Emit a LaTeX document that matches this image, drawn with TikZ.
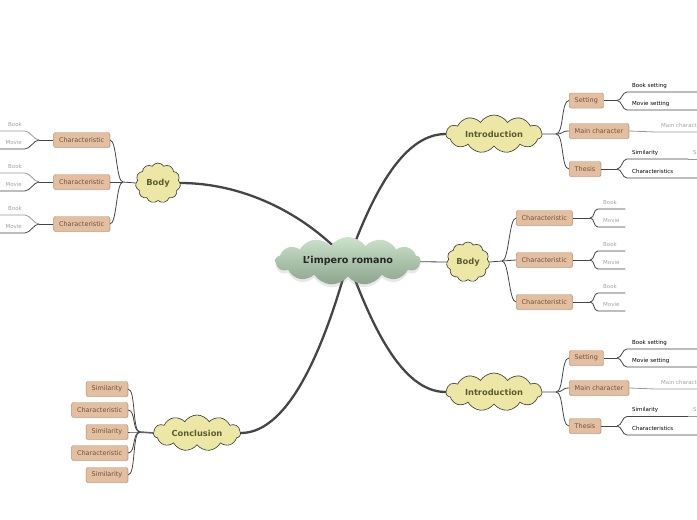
\documentclass[tikz,border=0pt]{standalone}
\usepackage{fontspec}
\setmainfont{DejaVu Sans}
\usetikzlibrary{shapes.symbols,shadows,backgrounds}

\definecolor{boxfill}{HTML}{E3BF9F}
\definecolor{boxline}{HTML}{B08E73}
\definecolor{boxtext}{HTML}{6B5444}
\definecolor{cloudfill}{HTML}{EDE7A6}
\definecolor{cloudtext}{HTML}{5C5A34}
\definecolor{rootlight}{HTML}{CBE2CB}
\definecolor{rootdark}{HTML}{8CA58C}
\definecolor{branch}{HTML}{454545}
\definecolor{leafgray}{HTML}{A2A2A2}

\tikzset{
  root/.style={cloud, cloud puffs=13, cloud puff arc=110, cloud ignores aspect,
    minimum width=145pt, minimum height=48pt, inner sep=0pt,
    top color=rootlight, bottom color=rootdark, draw=none,
    drop shadow={opacity=.18, shadow xshift=0pt, shadow yshift=-3pt},
    font=\fontsize{9.6}{11}\selectfont\bfseries, text=black!85},
  topic/.style={cloud, cloud puffs=11, cloud puff arc=115, cloud ignores aspect,
    inner sep=0pt, draw=black!80, fill=cloudfill, line width=.6pt,
    font=\fontsize{8.3}{10}\selectfont\bfseries, text=cloudtext},
  sub/.style={draw=boxline, fill=boxfill, rounded corners=2pt,
    minimum height=15pt, inner xsep=5.5pt, inner ysep=0pt,
    drop shadow={opacity=.25, shadow xshift=.7pt, shadow yshift=-.7pt},
    font=\fontsize{6.5}{7}\selectfont, text=boxtext},
  leaf/.style={anchor=south west, text width=#1, align=left,
    inner xsep=5pt, inner ysep=4.5pt, text height=4pt, text depth=0pt,
    font=\fontsize{5.5}{6}\selectfont, text=black},
  leaf/.default=60pt,
  lleaf/.style={leaf=#1, anchor=south east, align=right, inner xsep=3pt, text=leafgray},
  trunk/.style={draw=branch, line width=2.3pt, line cap=round},
  twig/.style={draw=branch, line width=.8pt},
  pale/.style={draw=branch!55, line width=.8pt},
}

\begin{document}
\begin{tikzpicture}[x=1pt,y=-1pt]
\clip (0,0) rectangle (697,520);
%\draw[help lines] (0,0) grid[step=50] (697,520);

\node[root] (root) at (348,261) {L'impero romano};

% introduction, top
\node[topic, minimum width=96pt, minimum height=38pt] (introA) at (494,134) {Introduction};
\coordinate (jA) at (556,134);
\node[sub, anchor=west] (setA) at (569,100.5) {Setting};
\node[sub, anchor=west] (mainA) at (569,131) {Main character};
\node[sub, anchor=west] (thesA) at (569,169) {Thesis};
\coordinate (kA1) at (617,100.5);
\coordinate (kA2) at (617,169);
\node[leaf=63pt] (bsetA) at (627,92) {Book setting};
\node[leaf=63pt] (msetA) at (627,110) {Movie setting};
\node[leaf=50pt, text=leafgray] (cmainA) at (656,132) {Main character};
\node[leaf=51pt] (simA) at (627,159) {Similarity};
\node[leaf=40pt, text=leafgray] (simA2) at (688,159) {Similarity};
\node[leaf=63pt] (charsA) at (627,178) {Characteristics};

\draw[twig] (introA.east) -- (jA);
\foreach \n in {setA,mainA,thesA}
  \draw[twig] (jA) .. controls +(8,0) and +(-8,0) .. (\n.west);
\draw[twig] (setA.east) -- (kA1);
\draw[twig] (kA1) .. controls +(5,0) and +(-5,0) .. (bsetA.south west) -- (bsetA.south east);
\draw[twig] (kA1) .. controls +(5,0) and +(-5,0) .. (msetA.south west) -- (msetA.south east);
\draw[pale] (mainA.east) -- (cmainA.south west) -- (cmainA.south east);
\draw[twig] (thesA.east) -- (kA2);
\draw[twig] (kA2) .. controls +(5,0) and +(-5,0) .. (simA.south west) -- (simA.south east);
\draw[pale] (simA.south east) -- (simA2.south east);
\draw[twig] (kA2) .. controls +(5,0) and +(-5,0) .. (charsA.south west) -- (charsA.south east);

% introduction, bottom
\node[topic, minimum width=96pt, minimum height=38pt] (introB) at (494,392) {Introduction};
\coordinate (jB) at (556,392);
\node[sub, anchor=west] (setB) at (569,358) {Setting};
\node[sub, anchor=west] (mainB) at (569,388) {Main character};
\node[sub, anchor=west] (thesB) at (569,426) {Thesis};
\coordinate (kB1) at (617,358);
\coordinate (kB2) at (617,426);
\node[leaf=63pt] (bsetB) at (627,349) {Book setting};
\node[leaf=63pt] (msetB) at (627,367) {Movie setting};
\node[leaf=50pt, text=leafgray] (cmainB) at (656,389) {Main character};
\node[leaf=51pt] (simB) at (627,416.5) {Similarity};
\node[leaf=40pt, text=leafgray] (simB2) at (688,416.5) {Similarity};
\node[leaf=63pt] (charsB) at (627,435) {Characteristics};

\draw[twig] (introB.east) -- (jB);
\foreach \n in {setB,mainB,thesB}
  \draw[twig] (jB) .. controls +(8,0) and +(-8,0) .. (\n.west);
\draw[twig] (setB.east) -- (kB1);
\draw[twig] (kB1) .. controls +(5,0) and +(-5,0) .. (bsetB.south west) -- (bsetB.south east);
\draw[twig] (kB1) .. controls +(5,0) and +(-5,0) .. (msetB.south west) -- (msetB.south east);
\draw[pale] (mainB.east) -- (cmainB.south west) -- (cmainB.south east);
\draw[twig] (thesB.east) -- (kB2);
\draw[twig] (kB2) .. controls +(5,0) and +(-5,0) .. (simB.south west) -- (simB.south east);
\draw[pale] (simB.south east) -- (simB2.south east);
\draw[twig] (kB2) .. controls +(5,0) and +(-5,0) .. (charsB.south west) -- (charsB.south east);

% body, right
\node[topic, minimum width=43pt, minimum height=40pt] (bodyR) at (468,262) {Body};
\coordinate (jR) at (502,261);
\draw[twig] (bodyR.east) -- (jR);
\foreach \i/\y in {1/218,2/260,3/302} {
  \node[sub, anchor=west] (chR\i) at (516,\y) {Characteristic};
  \coordinate (kR\i) at (590,\y);
  \node[leaf=17pt, text=leafgray] (bookR\i) at (598,\y-9) {Book};
  \node[leaf=17pt, text=leafgray] (movR\i) at (598,\y+9) {Movie};
  \draw[twig] (jR) .. controls +(7,0) and +(-7,0) .. (chR\i.west);
  \draw[twig] (chR\i.east) -- (kR\i);
  \draw[twig] (kR\i) .. controls +(5,0) and +(-5,0) .. (bookR\i.south west) -- (bookR\i.south east);
  \draw[twig] (kR\i) .. controls +(5,0) and +(-5,0) .. (movR\i.south west) -- (movR\i.south east);
}

% body, left
\node[topic, minimum width=45pt, minimum height=40pt] (bodyL) at (158,183) {Body};
\coordinate (jL) at (123,182);
\draw[twig] (bodyL.west) -- (jL);
\foreach \i/\y in {1/140,2/182,3/224} {
  \node[sub, anchor=east] (chL\i) at (110,\y) {Characteristic};
  \coordinate (kL\i) at (39,\y);
  \node[lleaf=26pt] (bookL\i) at (25,\y-9) {Book};
  \node[lleaf=26pt] (movL\i) at (25,\y+9) {Movie};
  \draw[twig] (jL) .. controls +(-7,0) and +(7,0) .. (chL\i.east);
  \draw[twig] (chL\i.west) -- (kL\i);
  \draw[pale] (kL\i) .. controls +(-5,0) and +(5,0) .. (bookL\i.south east) -- (bookL\i.south west);
  \draw[twig] (kL\i) .. controls +(-5,0) and +(5,0) .. (movL\i.south east) -- (movL\i.south west);
}

% conclusion
\node[topic, minimum width=87pt, minimum height=36pt] (concC) at (197,433) {Conclusion};
\coordinate (jC) at (140,432);
\draw[draw=branch!85, line width=1.6pt] (concC.west) -- (jC);
\foreach \i/\y/\t in {1/389/Similarity,2/410/Characteristic,3/432/Similarity,4/453/Characteristic,5/475/Similarity} {
  \node[sub, anchor=east] (endC\i) at (128,\y) {\t};
  \draw[twig] (jC) .. controls +(-8,0) and +(8,0) .. (endC\i.east);
}

% main branches
\begin{scope}[on background layer]
\draw[trunk] (root.center) .. controls +(22,-60) and +(-45,0) .. (introA.west);
\draw[trunk] (root.center) .. controls +(22,60) and +(-45,0) .. (introB.west);
\draw[trunk] (root.center) .. controls +(-45,-50) and +(60,0) .. (bodyL.east);
\draw[trunk] (root.center) .. controls +(-22,80) and +(50,0) .. (concC.east);
\draw[twig] (root.center) -- (bodyR.west);
\end{scope}
\end{tikzpicture}
\end{document}
